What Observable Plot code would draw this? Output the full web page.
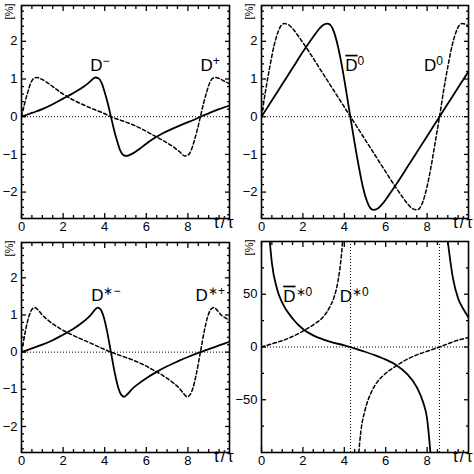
<!DOCTYPE html>
<html><head><meta charset="utf-8">
<script src="https://cdn.jsdelivr.net/npm/d3@7"></script>
<script src="https://cdn.jsdelivr.net/npm/@observablehq/plot@0.6"></script>
<style>
body{margin:0;background:#fff;}
#c{position:relative;width:474px;height:474px;background:#fff;}
#c svg{position:absolute;overflow:visible;}
</style></head><body><div id="c"></div>
<script>
// ---- tick values ----
const xMajor = [0, 2, 4, 6, 8];
const xMinor = d3.range(1, 20).map(i => i / 2).filter(v => v % 2 !== 0);
const yMajorPct = [-2, -1, 0, 1, 2];
const yMinorPct = d3.range(-13, 15).map(i => i / 5).filter(v => !Number.isInteger(v));
const yMajorBig = [-50, 0, 50];
const yMinorBig = [-75, -25, 25, 75];

// ---- panel 1: D- (solid), D+ (dashed) ----
const tDm = [0, 0.5, 1, 1.5, 2, 2.5, 3, 3.3, 3.55, 3.7, 3.85, 4.0, 4.15, 4.3, 4.45, 4.6, 4.75, 4.9, 5.05, 5.25, 5.5, 5.8, 6.3, 6.8, 7.3, 7.8, 8.3, 8.6, 9.0, 9.5, 10];
const aDm = [0, 0.1, 0.2, 0.33, 0.48, 0.63, 0.8, 0.93, 1.04, 1.02, 0.9, 0.65, 0.35, 0, -0.35, -0.65, -0.9, -1.02, -1.04, -1.0, -0.92, -0.8, -0.6, -0.44, -0.31, -0.19, -0.08, 0, 0.09, 0.2, 0.3];
const tDp = [0, 0.15, 0.3, 0.45, 0.6, 0.75, 0.95, 1.2, 1.5, 2.0, 2.5, 3.0, 3.5, 4.0, 4.3, 4.8, 5.3, 5.8, 6.3, 6.8, 7.3, 7.6, 7.85, 8.0, 8.15, 8.3, 8.45, 8.6, 8.75, 8.9, 9.05, 9.2, 9.35, 9.55, 9.8, 10];
const aDp = [0, 0.35, 0.65, 0.9, 1.02, 1.04, 1.0, 0.92, 0.8, 0.6, 0.44, 0.31, 0.19, 0.08, 0, -0.1, -0.2, -0.33, -0.48, -0.63, -0.8, -0.93, -1.04, -1.02, -0.9, -0.65, -0.35, 0, 0.35, 0.65, 0.9, 1.02, 1.04, 1.0, 0.93, 0.88];

// ---- panel 2: D0bar (solid), D0 (dashed) ----
const tD0bar = [0, 0.5, 1, 1.5, 2, 2.5, 2.8, 3.0, 3.2, 3.35, 3.5, 3.7, 3.9, 4.1, 4.29, 4.5, 4.7, 4.9, 5.1, 5.25, 5.4, 5.6, 5.8, 6.1, 6.6, 7.1, 7.6, 8.1, 8.6, 9.1, 9.6, 10];
const aD0bar = [0, 0.43, 0.86, 1.29, 1.72, 2.12, 2.34, 2.44, 2.47, 2.42, 2.25, 1.85, 1.3, 0.65, 0, -0.7, -1.32, -1.87, -2.25, -2.42, -2.47, -2.44, -2.34, -2.12, -1.72, -1.29, -0.86, -0.43, 0, 0.43, 0.86, 1.2];
const tD0 = [0, 0.2, 0.4, 0.6, 0.8, 0.95, 1.1, 1.3, 1.5, 1.8, 2.3, 2.8, 3.3, 3.8, 4.3, 4.8, 5.3, 5.8, 6.3, 6.8, 7.1, 7.3, 7.5, 7.65, 7.8, 8.0, 8.2, 8.4, 8.6, 8.8, 9.0, 9.2, 9.4, 9.55, 9.7, 9.9, 10];
const aD0 = [0, 0.7, 1.32, 1.87, 2.25, 2.42, 2.47, 2.44, 2.34, 2.12, 1.72, 1.29, 0.86, 0.43, 0, -0.43, -0.86, -1.29, -1.72, -2.12, -2.34, -2.44, -2.47, -2.42, -2.25, -1.85, -1.3, -0.65, 0, 0.7, 1.32, 1.87, 2.25, 2.42, 2.47, 2.44, 2.4];

// ---- panel 3: D*- (solid), D*+ (dashed) ----
const tDsm = [0, 0.5, 1, 1.5, 2, 2.5, 3, 3.3, 3.5, 3.66, 3.8, 3.95, 4.1, 4.3, 4.5, 4.65, 4.8, 4.94, 5.1, 5.3, 5.6, 6.0, 6.5, 7.0, 7.5, 8.0, 8.6, 9.0, 9.5, 10];
const aDsm = [0, 0.1, 0.2, 0.32, 0.47, 0.63, 0.83, 0.98, 1.12, 1.2, 1.15, 0.95, 0.6, 0, -0.6, -0.95, -1.15, -1.2, -1.13, -1.0, -0.86, -0.7, -0.53, -0.38, -0.25, -0.13, 0, 0.08, 0.18, 0.28];
const tDsp = [0, 0.1, 0.2, 0.35, 0.5, 0.64, 0.8, 1.0, 1.3, 1.8, 2.3, 2.8, 3.3, 3.8, 4.3, 4.8, 5.3, 5.8, 6.3, 6.8, 7.3, 7.6, 7.8, 7.96, 8.1, 8.25, 8.4, 8.6, 8.8, 8.95, 9.1, 9.26, 9.4, 9.6, 9.8, 10];
const aDsp = [0, 0.3, 0.6, 0.95, 1.15, 1.2, 1.13, 1.0, 0.85, 0.65, 0.5, 0.37, 0.25, 0.12, 0, -0.1, -0.2, -0.32, -0.47, -0.63, -0.83, -0.98, -1.12, -1.2, -1.15, -0.95, -0.6, 0, 0.6, 0.95, 1.15, 1.2, 1.13, 1.0, 0.92, 0.86];

// ---- panel 4: D*0bar (solid), D*0 (dashed); null = break at a pole ----
const tDs0bar = [0.4, 0.5, 0.75, 1.0, 1.5, 2.0, 2.5, 3.0, 3.5, 4.0, 4.27, 4.6, 5.0, 5.5, 6.0, 6.5, 7.0, 7.5, 7.8, 8.0, 8.16, 8.6, 9.0, 9.25, 9.5, 9.75, 10];
const aDs0bar = [100, 80, 55, 42, 27, 17, 11, 7, 4, 1.6, 0, -2, -4.5, -8, -12, -17, -25, -38, -52, -68, -100, null, 100, 65, 46, 36, 28];
const tDs0 = [0, 0.5, 1.0, 1.5, 2.0, 2.5, 3.0, 3.3, 3.5, 3.7, 3.85, 3.92, 4.3, 4.7, 4.8, 5.0, 5.3, 5.6, 6.0, 6.5, 7.0, 7.5, 8.0, 8.6, 9.0, 9.5, 10];
const aDs0 = [0, 3, 6, 10, 15, 21, 29, 38, 47, 63, 85, 100, null, -100, -80, -60, -43, -33, -25, -18, -12, -7.5, -4, 0, 3, 6.5, 9];
const polesDs0 = [4.3, 8.6];

// ---- curve labels (annotation positions in data units) ----
const labels1 = [{x: 3.3, y: 1.22, base: "D", bar: false, sup: "−"}, {x: 8.6, y: 1.22, base: "D", bar: false, sup: "+"}];
const labels2 = [{x: 4.05, y: 1.22, base: "D", bar: true, sup: "0"}, {x: 7.85, y: 1.22, base: "D", bar: false, sup: "0"}];
const labels3 = [{x: 3.35, y: 1.38, base: "D", bar: false, sup: "∗−"}, {x: 8.37, y: 1.38, base: "D", bar: false, sup: "∗+"}];
const labels4 = [{x: 1.05, y: 43, base: "D", bar: true, sup: "∗0"}, {x: 3.78, y: 43, base: "D", bar: false, sup: "∗0"}];

const rows = (ts, as) => ts.map((t, i) => ({t, a: as[i]}));
const FONT = "'Liberation Sans', Arial, Helvetica, sans-serif";

function panel(cfg) {
  const marks = [Plot.ruleY([0], {strokeDasharray: "1,2", strokeWidth: 1})];
  if (cfg.vlines) marks.push(Plot.ruleX(cfg.vlines, {strokeDasharray: "1,2", strokeWidth: 1}));
  marks.push(
    Plot.line(cfg.dashed, {x: "t", y: "a", curve: "monotone-x", strokeWidth: 1.5, strokeDasharray: "3.5,2.5", clip: true}),
    Plot.line(cfg.solid, {x: "t", y: "a", curve: "monotone-x", strokeWidth: 1.8, clip: true}),
    Plot.frame({strokeWidth: 1.6}),
    Plot.axisX(xMajor, {anchor: "bottom", tickSize: -5, fill: "none", label: null, strokeWidth: 1.3}),
    Plot.axisX(xMinor, {anchor: "bottom", tickSize: -3, fill: "none", label: null, strokeWidth: 1.3}),
    Plot.axisX(xMajor, {anchor: "top", tickSize: -5, fill: "none", label: null, strokeWidth: 1.3}),
    Plot.axisX(xMinor, {anchor: "top", tickSize: -3, fill: "none", label: null, strokeWidth: 1.3}),
    Plot.axisX(xMajor, {anchor: "bottom", tickSize: 0, tickPadding: 3, tickFormat: "d", label: null}),
    Plot.axisY(cfg.yMajor, {anchor: "left", tickSize: -5, fill: "none", label: null, strokeWidth: 1.3}),
    Plot.axisY(cfg.yMinor, {anchor: "left", tickSize: -3, fill: "none", label: null, strokeWidth: 1.3}),
    Plot.axisY(cfg.yMajor, {anchor: "right", tickSize: -5, fill: "none", label: null, strokeWidth: 1.3}),
    Plot.axisY(cfg.yMinor, {anchor: "right", tickSize: -3, fill: "none", label: null, strokeWidth: 1.3}),
    Plot.axisY(cfg.yMajor, {anchor: "left", tickSize: 0, tickPadding: 4, tickFormat: "d", label: null}),
    Plot.text(["t/τ"], {frameAnchor: "bottom-right", text: d => d, textAnchor: "end", lineAnchor: "top", dx: 6, dy: -2}),
    Plot.text(["[%]"], {frameAnchor: "top-left", text: d => d, rotate: -90, textAnchor: "end", lineAnchor: "middle", dx: -12, dy: -2}),
    Plot.text(cfg.labels, {x: "x", y: "y", text: d => d.base + d.sup, textAnchor: "start"})
  );
  const svg = Plot.plot({
    width: 237, height: 237,
    marginLeft: cfg.mL, marginRight: cfg.mR, marginTop: cfg.mT, marginBottom: cfg.mB,
    x: {domain: [0, 10]},
    y: {domain: cfg.yDomain},
    style: {fontFamily: FONT, fontSize: "13px", color: "black", background: "transparent"},
    marks
  });
  const sel = d3.select(svg).selectAll("text");
  sel.filter(function() { return this.textContent === "t/τ"; })
    .style("font-size", "16px").style("letter-spacing", "2px");
  sel.filter(function() { return this.textContent === "[%]"; })
    .style("font-size", "11px");
  const strs = cfg.labels.map(L => L.base + L.sup);
  let k = 0;
  sel.filter(function() { return strs.includes(this.textContent); })
    .each(function() {
      const L = cfg.labels[k++];
      if (!L) return;
      const t = d3.select(this);
      t.text(null).attr("y", null).attr("dy", null).style("font-size", "17px");
      t.append("tspan").text(L.base).style("text-decoration", L.bar ? "overline" : null);
      t.append("tspan").attr("dy", -5.5).style("font-size", "12px").text(L.sup);
    });
  svg.style.left = cfg.left + "px";
  svg.style.top = cfg.top + "px";
  document.getElementById("c").appendChild(svg);
}

panel({left: 0, top: 0, mL: 21, mR: 8, mT: 5, mB: 19, yDomain: [-2.7, 2.95], yMajor: yMajorPct, yMinor: yMinorPct,
  solid: rows(tDm, aDm), dashed: rows(tDp, aDp), labels: labels1});
panel({left: 237, top: 0, mL: 24, mR: 6, mT: 5, mB: 19, yDomain: [-2.7, 2.95], yMajor: yMajorPct, yMinor: yMinorPct,
  solid: rows(tD0bar, aD0bar), dashed: rows(tD0, aD0), labels: labels2});
panel({left: 0, top: 237, mL: 21, mR: 8, mT: 5, mB: 22, yDomain: [-2.7, 2.95], yMajor: yMajorPct, yMinor: yMinorPct,
  solid: rows(tDsm, aDsm), dashed: rows(tDsp, aDsp), labels: labels3});
panel({left: 237, top: 237, mL: 24, mR: 6, mT: 4, mB: 22, yDomain: [-100, 100], yMajor: yMajorBig, yMinor: yMinorBig,
  solid: rows(tDs0bar, aDs0bar), dashed: rows(tDs0, aDs0), labels: labels4, vlines: polesDs0});
</script></body></html>
